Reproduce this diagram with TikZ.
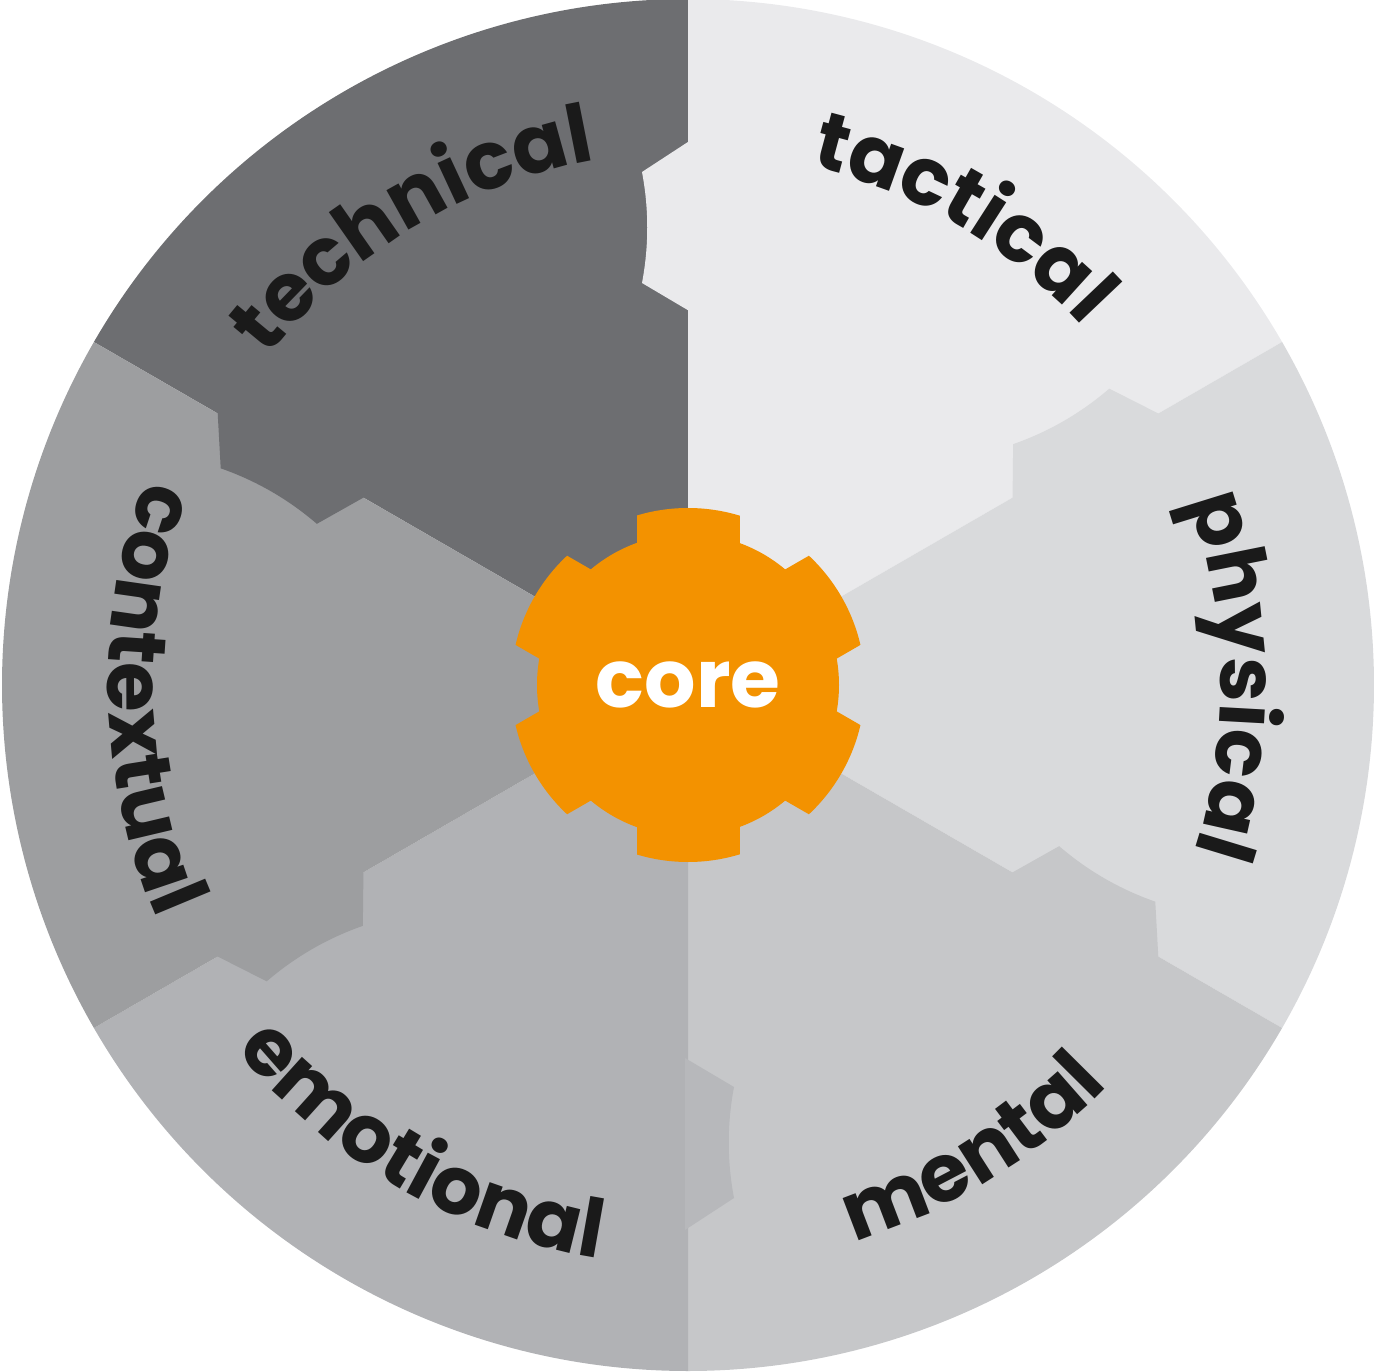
\documentclass[tikz,border=0pt]{standalone}
\usepackage{fontspec}
\setmainfont{Poppins}
\usepackage{xcolor}
\usepackage{tikz}
\usetikzlibrary{decorations.text}
\definecolor{technical}{HTML}{6D6E71}
\definecolor{tactical}{HTML}{EAEAEC}
\definecolor{physical}{HTML}{D9DADC}
\definecolor{mental}{HTML}{C6C7C9}
\definecolor{emotional}{HTML}{B1B2B5}
\definecolor{contextual}{HTML}{9D9EA0}
\definecolor{coregold}{HTML}{F39200}
\definecolor{ink}{HTML}{1A1A1A}
\newcommand\labfont{\bfseries\fontsize{23}{23}\selectfont}
\tikzset{
  lab/.style={decorate, decoration={text along path, text align=center, text color=ink}},
  coretext/.style={text=white, font=\bfseries\fontsize{23}{23}\selectfont, inner sep=0pt},
}

\begin{document}
\begin{tikzpicture}
\useasboundingbox (-6.88,-6.86) rectangle (6.89,6.85);

% wedges
\fill[technical] (0,0) -- (90:6.86) arc[start angle=90, end angle=150, radius=6.86] -- cycle;
\fill[tactical] (0,0) -- (30:6.86) arc[start angle=30, end angle=90, radius=6.86] -- cycle;
\fill[physical] (0,0) -- (-30:6.86) arc[start angle=-30, end angle=30, radius=6.86] -- cycle;
\fill[mental] (0,0) -- (-90:6.86) arc[start angle=-90, end angle=-30, radius=6.86] -- cycle;
\fill[emotional] (0,0) -- (-150:6.86) arc[start angle=-150, end angle=-90, radius=6.86] -- cycle;
\fill[contextual] (0,0) -- (150:6.86) arc[start angle=150, end angle=210, radius=6.86] -- cycle;

% tabs
\begin{scope}[rotate=90]
\fill[tactical] (5.45,-0.03) -- (5.13,0.46) .. controls (4.76,0.39) and (4.39,0.39) .. (4.02,0.46) -- (3.73,-0.03) -- cycle;
\end{scope}
\begin{scope}[rotate=150]
\fill[technical] (5.45,-0.03) -- (5.13,0.46) .. controls (4.76,0.39) and (4.39,0.39) .. (4.02,0.46) -- (3.73,-0.03) -- cycle;
\end{scope}
\begin{scope}[rotate=210]
\fill[contextual] (5.45,-0.03) -- (5.13,0.46) .. controls (4.76,0.39) and (4.39,0.39) .. (4.02,0.46) -- (3.73,-0.03) -- cycle;
\end{scope}
\begin{scope}[rotate=270]
\fill[emotional!70!mental] (5.45,-0.03) -- (5.13,0.46) .. controls (4.76,0.39) and (4.39,0.39) .. (4.02,0.46) -- (3.73,-0.03) -- cycle;
\end{scope}
\begin{scope}[rotate=330]
\fill[mental] (5.45,-0.03) -- (5.13,0.46) .. controls (4.76,0.39) and (4.39,0.39) .. (4.02,0.46) -- (3.73,-0.03) -- cycle;
\end{scope}
\begin{scope}[rotate=30]
\fill[physical] (5.45,-0.03) -- (5.13,0.46) .. controls (4.76,0.39) and (4.39,0.39) .. (4.02,0.46) -- (3.73,-0.03) -- cycle;
\end{scope}

% labels
\path[lab, decoration={text={|\labfont|technical}}] (151:5.33) arc[start angle=151, end angle=91, radius=5.33];
\path[lab, decoration={text={|\labfont|tactical}}] (89.5:5.33) arc[start angle=89.5, end angle=29.5, radius=5.33];
\path[lab, decoration={text={|\labfont|physical}}] (31:5.33) arc[start angle=31, end angle=-29, radius=5.33];
\path[lab, decoration={text={|\labfont|mental}}] (-88.5:5.8) arc[start angle=-88.5, end angle=-28.5, radius=5.8];
\path[lab, decoration={text={|\labfont|emotional}}] (-150:5.8) arc[start angle=-150, end angle=-90, radius=5.8];
\path[lab, decoration={text={|\labfont|contextual}}] (151.5:5.8) arc[start angle=151.5, end angle=211.5, radius=5.8];

% core gear
\fill[coregold] (0,0) circle (1.51);
\begin{scope}
\clip (0,0) circle (1.77);
\fill[coregold, rotate=90] (0,-0.515) rectangle (1.8,0.515);
\fill[coregold, rotate=30] (0,-0.515) rectangle (1.8,0.515);
\fill[coregold, rotate=-30] (0,-0.515) rectangle (1.8,0.515);
\fill[coregold, rotate=-90] (0,-0.515) rectangle (1.8,0.515);
\fill[coregold, rotate=-150] (0,-0.515) rectangle (1.8,0.515);
\fill[coregold, rotate=150] (0,-0.515) rectangle (1.8,0.515);
\end{scope}
\node[coretext] (core) at (0,0) {core};
\end{tikzpicture}
\end{document}
